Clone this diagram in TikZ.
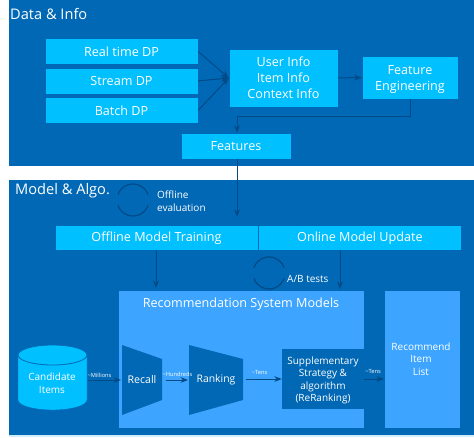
\documentclass[tikz,border=0pt]{standalone}
\usepackage{fontspec}
\setmainfont{Open Sans}
\usepackage{xcolor}
\usepackage{tikz}
\usetikzlibrary{arrows.meta,positioning}
\definecolor{panelblue}{HTML}{0068B5}
\definecolor{lightblue}{HTML}{00C0FF}
\definecolor{midblue}{HTML}{3DA5FF}
\definecolor{darkblue}{HTML}{004A86}
\definecolor{paleblue}{HTML}{CFEEFA}

\begin{document}
\begin{tikzpicture}[x=1pt, y=-1pt, >=Stealth,
    panel/.style={fill=panelblue, anchor=north west, inner sep=0pt, minimum width=465pt},
    box/.style={draw=panelblue, fill=lightblue, text=white, align=center, inner sep=0pt, font=\fontsize{12.6}{16}\selectfont},
    dpbox/.style={box, minimum width=153pt, minimum height=26pt},
    trainbox/.style={box, minimum width=203pt, minimum height=25pt, text height=9.5pt, text depth=1.5pt},
    tallbox/.style={draw=panelblue, fill=midblue, anchor=north west, inner sep=0pt, minimum height=138pt},
    dark/.style={fill=panelblue, draw=none},
    title/.style={text=white, anchor=west, inner sep=0pt, font=\fontsize{14.6}{16}\selectfont},
    small/.style={text=white, inner sep=0pt, align=center, font=\fontsize{10}{12.5}\selectfont},
    tiny/.style={text=white, inner sep=0pt, font=\fontsize{5.7}{6}\selectfont},
    link/.style={draw=darkblue, line width=1pt, ->},
    loopline/.style={draw=darkblue, line width=1.2pt}]
  \useasboundingbox (0,0) rectangle (474,437);
  \node[anchor=north west, fill=paleblue, inner sep=0pt, minimum width=465pt, minimum height=3pt] (strip) at (9,434) {};

  % panels
  \node[panel, minimum height=166pt] (datapanel) at (9,0) {};
  \node[panel, minimum height=255pt] (modelpanel) at (9,180) {};
  \node[title] (datatitle) at (10,14) {Data \& Info};
  \node[title] (modeltitle) at (15,191) {Model \& Algo.};

  % data part
  \node[dpbox] (realtime) at (121.5,51.5) {Real time DP};
  \node[dpbox, below=3pt of realtime] (stream) {Stream DP};
  \node[dpbox, below=3pt of stream] (batch) {Batch DP};
  \node[box, minimum width=109pt, minimum height=58pt] (info) at (283.5,78) {User Info\\Item Info\\Context Info};
  \node[box, minimum width=96pt, minimum height=43pt, text depth=0pt] (engineering) at (410,77.5) {Feature\\Engineering};
  \node[box, minimum width=110pt, minimum height=26pt] (features) at (236,146) {Features};
  \draw[link] (realtime.east) -- (info.west);
  \draw[link] (stream.east) -- (info.west);
  \draw[link] (batch.east) -- (info.west);
  \draw[link] (info) -- (engineering);
  \coordinate (turn) at (237,116);
  \draw[link] (engineering.south) |- (turn) -- (turn |- features.north);

  % model part
  \node[trainbox] (offline) at (156.5,237.5) {Offline Model Training};
  \node[trainbox, right=0pt of offline] (online) {Online Model Update};
  \coordinate (modelin) at (237,217);
  \draw[link] (features.south -| modelin) -- (modelin);
  \node[tallbox, minimum width=246pt] (recsys) at (118,290) {};
  \node[tallbox, minimum width=76pt] (itemlist) at (384,290) {};
  \node[text=white, inner sep=0pt, font=\fontsize{12.6}{16}\selectfont] (recsystitle) at (241,304) {Recommendation System Models};
  \node[small] (itemtext) at (421,359) {Recommend\\Item\\List};
  \draw[link] (offline.south -| 156,0) -- (156,288);
  \draw[link] (online.south -| 340,0) -- (340,289);

  % loops
  \node[small, anchor=west, align=left] (offeval) at (157,201) {Offline\\evaluation};
  \coordinate (offloop) at (133,200);
  \draw[loopline] (offloop) ++(20:16) arc[start angle=20, end angle=160, radius=16];
  \draw[loopline] (offloop) ++(200:16) arc[start angle=200, end angle=340, radius=16];
  \node[small, anchor=west] (abtests) at (287,279) {A/B tests};
  \coordinate (abloop) at (269,273);
  \draw[loopline] (abloop) ++(20:16) arc[start angle=20, end angle=160, radius=16];
  \draw[loopline] (abloop) ++(200:16) arc[start angle=200, end angle=340, radius=16];

  % pipeline
  \draw[draw=panelblue, fill=lightblue] (18,355) -- (18,400) arc[start angle=180, end angle=0, x radius=34.5, y radius=10]
    -- (87,355) arc[start angle=0, end angle=-180, x radius=34.5, y radius=10];
  \draw[draw=panelblue, fill=lightblue, line width=0.8pt] (52.5,355) ellipse[x radius=34.5, y radius=10];
  \node[small] (candidate) at (52,383) {Candidate\\Items};
  \fill[dark] (122,345) -- (162,359) -- (162,400) -- (122,415) -- cycle;
  \fill[dark] (189,345) -- (243,359) -- (243,400) -- (189,415) -- cycle;
  \node[small, font=\fontsize{10.6}{12}\selectfont] (recall) at (142,380) {Recall};
  \node[small, font=\fontsize{10.4}{12}\selectfont] (ranking) at (216,380) {Ranking};
  \node[small, dark, minimum width=82pt, minimum height=60pt, text depth=0pt] (supp) at (323,379) {Supplementary\\Strategy \&\\algorithm\\(ReRanking)};
  \coordinate (candout) at (88,380);
  \coordinate (recallin) at (121,380);
  \coordinate (recallout) at (166,380);
  \coordinate (rankin) at (188,380);
  \coordinate (rankout) at (246,379);
  \draw[link] (candout) -- (recallin);
  \draw[link] (recallout) -- (rankin);
  \draw[link] (rankout) -- (supp.west);
  \draw[link] (supp.east) -- (itemlist.west |- supp);
  \node[tiny] (millions) at (99.5,375) {\textasciitilde Millions};
  \node[tiny] (hundreds) at (177.5,374) {\textasciitilde Hundreds};
  \node[tiny] (tensa) at (259.5,372) {\textasciitilde Tens};
  \node[tiny] (tensb) at (373,371) {\textasciitilde Tens};
\end{tikzpicture}
\end{document}
